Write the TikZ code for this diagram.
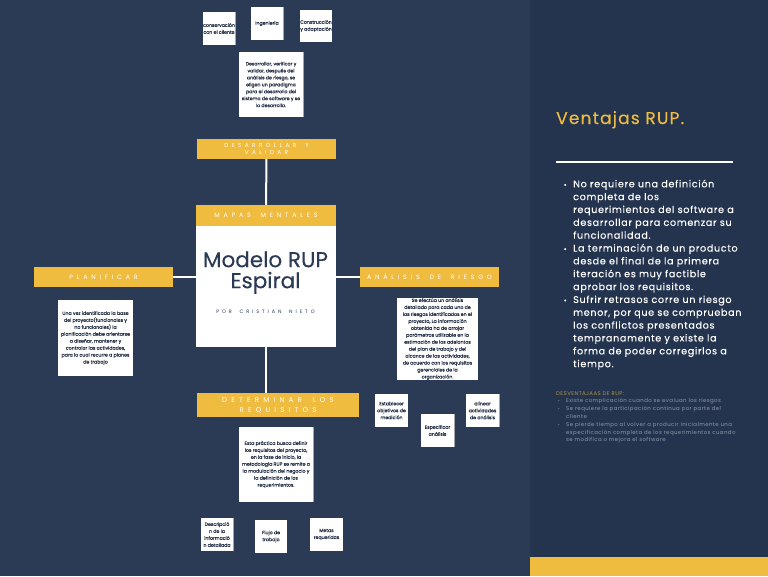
\documentclass[tikz,border=0pt]{standalone}
\usepackage{fontspec}
\setmainfont{Poppins}
\newfontfamily\widefont{Poppins}[LetterSpace=60,WordSpace=1.8]
\newfontfamily\listfont{Poppins}[LetterSpace=7,FakeBold=0.25]
\newfontfamily\thinlist{Poppins}[LetterSpace=8]
\newfontfamily\cardfont{Poppins}[FakeBold=0.3]
\newfontfamily\titlefont{Poppins}[FakeBold=0.2]
\usetikzlibrary{shadows}
\definecolor{navy}{HTML}{2B3A55}
\definecolor{panel}{HTML}{24344F}
\definecolor{gold}{HTML}{EFBC40}
\definecolor{ink}{HTML}{2B3A55}
\definecolor{faded}{HTML}{8E99AA}
\newcommand{\bul}{\llap{\scalebox{0.75}{\textbullet}\hspace{6.5pt}}}
\tikzset{
  goldbar/.style={fill=gold,text=white,minimum width=139pt,inner sep=0pt,align=center,
    font=\widefont\fontsize{6.3}{10}\selectfont},
  card/.style={fill=white,text=ink!80!black,inner sep=0pt,align=center,
    font=\cardfont\fontsize{4.7}{6.95}\selectfont},
  edged/.style={card,general shadow={fill=gray!70,shadow xshift=1pt}},
  link/.style={draw=white,line width=2pt}
}
\begin{document}
\begin{tikzpicture}[x=1pt,y=-1pt]
    \useasboundingbox (0,0) rectangle (768,576);
    \fill[navy] (0,0) rectangle (530,576);
    \fill[panel] (530,0) rectangle (768,576);
    \fill[gold] (530,557) rectangle (768,576);
    %
    \node[goldbar,minimum height=20pt,font=\widefont\fontsize{5.7}{7}\selectfont] (desarrollar) at (266.5,149) {DESARROLLAR Y\\VALIDAR};
    \node[goldbar,minimum height=21pt,minimum width=140pt] (mapas) at (266,215.5) {MAPAS MENTALES};
    \node[fill=white,minimum width=140pt,minimum height=121pt,inner sep=0pt] (centro) at (266,286.5) {};
    \node[goldbar,minimum height=20pt] (planificar) at (103.5,277) {PLANIFICAR};
    \node[goldbar,minimum height=20pt] (riesgo) at (429.5,277) {ANÁLISIS DE RIESGO};
    \node[goldbar,minimum height=24pt,minimum width=162pt,font=\widefont\fontsize{7}{10}\selectfont] (determinar) at (278,405) {DETERMINAR LOS\\REQUISITOS};
    \node[text=ink,align=center,inner sep=0pt,font=\titlefont\fontsize{21.5}{21}\selectfont] (titulo) at (265.5,272.5) {Modelo RUP\\Espiral};
    \node[text=ink,inner sep=0pt,font=\widefont\fontsize{4.9}{7}\selectfont] (autor) at (265.5,311.5) {POR CRISTIAN NIETO};
    %
    \draw[link] (desarrollar) -- (mapas);
    \draw[link] (centro) -- (centro|-determinar.north);
    \draw[link] (planificar) -- (planificar-|centro.west);
    \draw[link] (centro.east|-riesgo) -- (riesgo);
    %
    \foreach \name/\x/\y/\w/\h/\txt in {
      desarrollo/271/84.5/64/65/{Desarrollar, verificar y\\validar, después del\\análisis de riesgo, se\\eligen un paradigma\\para el desarrollo del\\sistema de software y se\\lo desarrolla.},
      practica/276/464.5/74/75/{Esta práctica busca definir\\los requisitos del proyecto,\\en la fase de inicio, la\\metodología RUP se remite a\\la modulación del negocio y\\la definición de los\\requerimientos.},
      conservacion/219/28.5/32/33/{conservación\\con el cliente},
      ingenieria/267/23.5/32/33/{Ingeniería},
      especificar/437.5/430.5/33/33/{Especificar\\análisis},
      alinear/482.5/410.5/33/33/{alinear\\actividades\\de análisis},
      descripcion/217/534.5/32/33/{Descripció\\n de la\\informació\\n detallada}}
      \node[edged,minimum width=\w pt,minimum height=\h pt] (\name) at (\x,\y) {\txt};
    \foreach \name/\x/\y/\w/\h/\txt in {
      base/95.5/338/75/76/{Una vez identificada la base\\del proyecto(funcionales y\\no funcionales) la\\planificación debe orientarse\\a diseñar, mantener y\\controlar las actividades,\\para lo cual recurre a planes\\de trabajo},
      analisis/437.5/339/81/82/{Se efectúa un análisis\\detallado para cada uno de\\los riesgos identificados en el\\proyecto, La información\\obtenida ha de arrojar\\parámetros utilizable en la\\estimación de los adelantos\\del plan de trabajo y del\\alcance de las actividades,\\de acuerdo con los requisitos\\gerenciales de la\\organización.},
      construccion/316/26/32/32/{Construcción\\y adaptación},
      establecer/391.5/410.5/33/33/{Establecer\\objetivos de\\medición},
      flujo/271/536.5/32/33/{Flujo de\\trabajo},
      metas/326.5/534.5/33/33/{Metas\\requeridas}}
      \node[card,minimum width=\w pt,minimum height=\h pt] (\name) at (\x,\y) {\txt};
    %
    \node[text=gold,anchor=base west,inner sep=0pt,font=\listfont\fontsize{17}{20}\selectfont] (ventajas) at (556,124) {Ventajas RUP.};
    \coordinate (regla) at (556,161.5);
    \draw[draw=white,line width=2pt] (regla) -- ++(177,0);
    \node[text=white,anchor=north west,inner sep=0pt,align=left,font=\listfont\fontsize{9.6}{12.85}\selectfont] (lista) at (573,179.5) {%
      \bul No requiere una definición\\completa de los\\requerimientos del software a\\desarrollar para comenzar su\\funcionalidad.\\
      \bul La terminación de un producto\\desde el final de la primera\\iteración es muy factible\\aprobar los requisitos.\\
      \bul Sufrir retrasos corre un riesgo\\menor, por que se comprueban\\los conflictos presentados\\tempranamente y existe la\\forma de poder corregirlos a\\tiempo.};
    \node[text=gold!70!panel,anchor=north west,inner sep=0pt,font=\thinlist\fontsize{5.4}{8}\selectfont] (desventajas) at (556,391) {DESVENTAJAAS DE RUP:};
    \node[text=faded,anchor=north west,inner sep=0pt,align=left,font=\thinlist\fontsize{5.4}{7.9}\selectfont] (contras) at (566,398) {%
      \bul Existe complicación cuando se evaluan los riesgos\\
      \bul Se requiere la participación continua por parte del\\cliente\\
      \bul Se pierde tiempo al volver a producir inicialmente una\\especificación completa de los requerimientos cuando\\se modifica o mejora el software};
\end{tikzpicture}
\end{document}
